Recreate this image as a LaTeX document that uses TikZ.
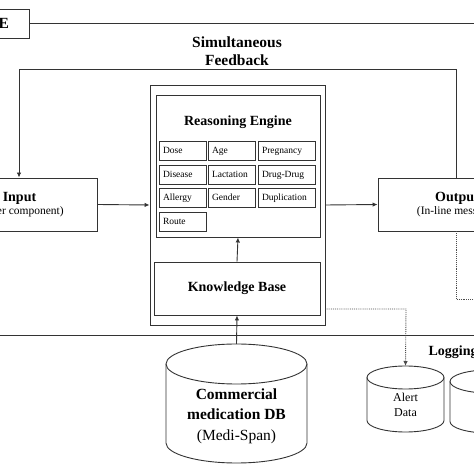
\documentclass[tikz,border=0pt]{standalone}
\usepackage{fontspec}
\setmainfont{Liberation Serif}
\usetikzlibrary{arrows.meta}
\tikzset{
  ln/.style={draw=black!80, line width=0.9pt},
  box/.style={ln, rectangle, inner sep=0pt, align=center},
  cell/.style={draw=black!80, line width=1pt, rectangle, minimum height=19pt, inner xsep=4pt, inner ysep=0pt, text height=7pt, text depth=2.2pt, align=left, font=\fontsize{9.5}{11}\selectfont},
  arr/.style={ln, -{Latex[length=5pt,width=4.5pt]}},
  dot/.style={draw=black!70, line width=0.9pt, densely dotted},
  big/.style={font=\fontsize{15.5}{18}\selectfont\bfseries, align=center},
  mid/.style={font=\fontsize{14}{16}\selectfont\bfseries},
}
\begin{document}
\begin{tikzpicture}[x=1pt,y=1pt]
\useasboundingbox (0,0) rectangle (474,474);
\clip (0,0) rectangle (474,474);
% top-left box
\node[box, minimum width=87pt, minimum height=29pt, font=\fontsize{15.5}{18}\selectfont\bfseries] (cpoe) at (-14.5,450.5) {\hspace*{4pt}CPOE};
\coordinate (topr) at (480,450.5);
\draw[ln] (cpoe.east) -- (topr);
% feedback label
\node[big] (fbl) at (237,423) {Simultaneous\\Feedback};
% input / output
\node[box, minimum width=155pt, minimum height=53pt] (input) at (19.5,269.5) {{\fontsize{14}{16}\selectfont\bfseries Input}\\[1pt]{\fontsize{11.5}{14}\selectfont (Order component)}};
\node[box, minimum width=158pt, minimum height=53pt] (output) at (457,269.5) {{\fontsize{14}{16}\selectfont\bfseries Output}\\[1pt]{\fontsize{11.5}{14}\selectfont (In-line message)}};
% engine
\node[box, minimum width=175pt, minimum height=240pt] (engine) at (237.5,269) {};
\node[box, minimum width=164pt, minimum height=142pt] (re) at (238,308) {};
\node[mid] (retitle) at (238,352) {Reasoning Engine};
\node[cell, text width=39pt] (c11) at (182.5,322.5) {Dose};
\node[cell, text width=39pt] (c12) at (231.5,322.5) {Age};
\node[cell, text width=49pt] (c13) at (286.5,322.5) {Pregnancy};
\node[cell, text width=39pt] (c21) at (182.5,299) {Disease};
\node[cell, text width=39pt] (c22) at (231.5,299) {Lactation};
\node[cell, text width=49pt] (c23) at (286.5,299) {Drug-Drug};
\node[cell, text width=39pt] (c31) at (182.5,275.5) {Allergy};
\node[cell, text width=39pt] (c32) at (231.5,275.5) {Gender};
\node[cell, text width=49pt] (c33) at (286.5,275.5) {Duplication};
\node[cell, text width=39pt] (c41) at (182.5,252) {Route};
\node[box, minimum width=166pt, minimum height=53pt, font=\fontsize{14}{16}\selectfont\bfseries] (kb) at (237,185.5) {Knowledge Base};
% connectors
\draw[arr] (input.east) -- (engine.west);
\draw[arr] (engine.east) -- (output.west);
\draw[arr] (kb.north) -- (re.south);
\coordinate (fbR) at (456,405);
\coordinate (fbL) at (19,405);
\draw[arr] (output.north -| fbR) -- (fbR) -- (fbL) -- (input.north -| fbL);
% horizontal divider
\coordinate (hl) at (-10,139);
\coordinate (hr) at (480,139);
\draw[ln] (hl) -- (hr);
% commercial DB cylinder
\draw[ln] (236.5,110) ellipse [x radius=70.5pt, y radius=20pt];
\draw[ln] (166,110) -- (166,31) arc[start angle=180, end angle=360, x radius=70.5pt, y radius=20pt] -- (307,110);
\node[align=center, font=\fontsize{15.5}{20.5}\selectfont] (db) at (236.5,58) {\textbf{Commercial}\\\textbf{medication DB}\\(Medi-Span)};
\coordinate (dbtop) at (236.5,130);
\draw[arr] (dbtop) -- (kb.south);
% logging
\node[mid, anchor=west] (log) at (425,122) {Logging};
\draw[ln] (405.5,96.5) ellipse [x radius=38.5pt, y radius=11.5pt];
\draw[ln] (367,96.5) -- (367,53.5) arc[start angle=180, end angle=360, x radius=38.5pt, y radius=11.5pt] -- (444,96.5);
\node[align=center, font=\fontsize{12}{15}\selectfont] (alert) at (405.5,69) {Alert\\Data};
\coordinate (alerttop) at (405.5,108);
\draw[ln] (488.5,92.5) ellipse [x radius=38.5pt, y radius=11.5pt];
\draw[ln] (450,92.5) -- (450,52.5) arc[start angle=180, end angle=360, x radius=38.5pt, y radius=11.5pt] -- (527,92.5);
% dotted links
\coordinate (d1) at (406,165);
\draw[dot, -{Latex[length=5pt,width=4.5pt]}] (engine.east |- d1) -- (d1) -- (alerttop);
\coordinate (d2) at (456,175);
\coordinate (d3) at (480,175);
\draw[dot] (output.south -| d2) -- (d2) -- (d3);
\end{tikzpicture}
\end{document}
